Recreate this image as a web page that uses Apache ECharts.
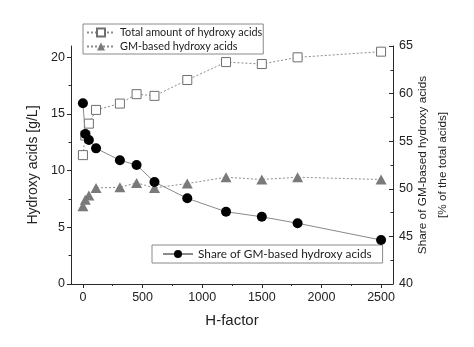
<!DOCTYPE html>
<html>
<head>
<meta charset="utf-8">
<script src="https://cdn.jsdelivr.net/npm/echarts@6/dist/echarts.min.js"></script>
<style>
  html, body { margin: 0; padding: 0; background: #fff; }
  #chart { width: 474px; height: 347px; }
</style>
</head>
<body>
<div id="chart"></div>
<script>
// H-factor of each cook
const hFactor = [0, 20, 50, 110, 310, 450, 600, 875, 1200, 1500, 1800, 2500];
// Hydroxy acid concentrations [g/L]
const totalAcids = [11.37, 13.1, 14.15, 15.36, 15.92, 16.75, 16.6, 18.0, 19.58, 19.41, 20.0, 20.5];
const gmAcids = [6.85, 7.44, 7.8, 8.48, 8.53, 8.92, 8.48, 8.86, 9.42, 9.22, 9.42, 9.22];
// Share of GM-based acids [% of total]
const gmShare = [58.98, 55.76, 55.13, 54.25, 53.0, 52.5, 50.71, 49.0, 47.59, 47.06, 46.38, 44.62];

// Axis tick positions
const xMajor = [0, 500, 1000, 1500, 2000, 2500];
const xMinor = [250, 750, 1250, 1750, 2250];
const yLeftMajor = [0, 5, 10, 15, 20];
const yLeftMinor = [2.5, 7.5, 12.5, 17.5];

const names = {
  total: 'Total amount of hydroxy acids',
  gm: 'GM-based hydroxy acids',
  share: 'Share of GM-based hydroxy acids'
};

const pairs = (xs, ys) => xs.map((x, i) => [x, ys[i]]);
const plain = v => String(v);

const axisColor = '#2a2a2a';
const labelFont = { fontFamily: 'Liberation Sans', fontSize: 12.5, color: '#222' };
const nameFont = { fontFamily: 'Liberation Sans', color: '#222' };
const plotRect = { left: 71, top: 46, width: 322, height: 238, containLabel: false };

const chart = echarts.init(document.getElementById('chart'), null, { renderer: 'canvas' });

chart.setOption({
  backgroundColor: '#fff',
  animation: false,
  // second grid shares the plot rectangle and only carries the minor ticks
  grid: [Object.assign({}, plotRect), Object.assign({}, plotRect)],
  legend: [
    {
      data: [names.total, names.gm],
      orient: 'vertical',
      left: 83, top: 24,
      itemWidth: 28, itemHeight: 10, itemGap: 3,
      padding: [3, 1, 2, 3],
      borderColor: '#8a8a8a', borderWidth: 1,
      textStyle: { fontFamily: 'Lato', fontSize: 10.85, color: '#222' }
    },
    {
      data: [names.share],
      left: 152, top: 245,
      itemWidth: 30, itemHeight: 10,
      padding: [3, 11, 3, 10],
      borderColor: '#8a8a8a', borderWidth: 1,
      textStyle: { fontFamily: 'Lato', fontSize: 11.8, color: '#222' }
    }
  ],
  xAxis: [
    {
      type: 'value', gridIndex: 0, min: -100, max: 2600, position: 'bottom',
      name: 'H-factor', nameLocation: 'middle', nameGap: 29,
      nameTextStyle: Object.assign({ fontSize: 15 }, nameFont),
      axisLine: { onZero: false, lineStyle: { color: axisColor, width: 1 } },
      axisTick: { customValues: xMajor, length: 4, lineStyle: { color: axisColor } },
      axisLabel: Object.assign({ customValues: xMajor, margin: 7, formatter: plain }, labelFont),
      splitLine: { show: false }
    },
    {
      type: 'value', gridIndex: 1, min: -100, max: 2600, position: 'bottom',
      axisLine: { show: false, onZero: false },
      axisTick: { customValues: xMinor, length: 2, lineStyle: { color: axisColor } },
      axisLabel: { show: false },
      splitLine: { show: false }
    }
  ],
  yAxis: [
    {
      type: 'value', gridIndex: 0, min: 0, max: 21, position: 'left',
      name: 'Hydroxy acids [g/L]', nameLocation: 'middle', nameGap: 31, nameRotate: 90,
      nameMoveOverlap: false,
      nameTextStyle: Object.assign({ fontSize: 14 }, nameFont),
      axisLine: { show: true, onZero: false, lineStyle: { color: axisColor, width: 1 } },
      axisTick: { customValues: yLeftMajor, length: 4, lineStyle: { color: axisColor } },
      axisLabel: Object.assign({ customValues: yLeftMajor, margin: 6 }, labelFont),
      splitLine: { show: false }
    },
    {
      type: 'value', gridIndex: 0, min: 40, max: 65, interval: 5, position: 'right',
      name: 'Share of GM-based hydroxy acids\n[% of the total acids]',
      nameLocation: 'middle', nameGap: 20, nameRotate: 90,
      nameMoveOverlap: false,
      nameTextStyle: Object.assign({ fontSize: 11.8, lineHeight: 20, align: 'center' }, nameFont),
      axisLine: { show: true, onZero: false, lineStyle: { color: axisColor, width: 1 } },
      axisTick: { inside: true, length: 4, lineStyle: { color: axisColor } },
      minorTick: { show: true, splitNumber: 2, length: 2.5, lineStyle: { color: axisColor } },
      axisLabel: Object.assign({ margin: 6 }, labelFont),
      splitLine: { show: false },
      minorSplitLine: { show: false }
    },
    {
      type: 'value', gridIndex: 1, min: 0, max: 21, position: 'left',
      axisLine: { show: false, onZero: false },
      axisTick: { customValues: yLeftMinor, length: 2.5, lineStyle: { color: axisColor } },
      axisLabel: { show: false },
      splitLine: { show: false }
    }
  ],
  series: [
    {
      name: names.total, type: 'line', xAxisIndex: 0, yAxisIndex: 0,
      data: pairs(hFactor, totalAcids),
      symbol: 'rect', symbolSize: 9,
      lineStyle: { color: '#8c8c8c', width: 1, type: [2, 2] },
      itemStyle: { color: '#fff', borderColor: '#6e6e6e', borderWidth: 1 },
      z: 2
    },
    {
      name: names.gm, type: 'line', xAxisIndex: 0, yAxisIndex: 0,
      data: pairs(hFactor, gmAcids),
      symbol: 'triangle', symbolSize: [11, 10],
      lineStyle: { color: '#8c8c8c', width: 1, type: [2, 2] },
      itemStyle: { color: '#7a7a7a' },
      z: 3
    },
    {
      name: names.share, type: 'line', xAxisIndex: 0, yAxisIndex: 1,
      data: pairs(hFactor, gmShare),
      symbol: 'circle', symbolSize: 10,
      lineStyle: { color: '#8a8a8a', width: 1 },
      itemStyle: { color: '#000' },
      z: 4
    }
  ]
});
</script>
</body>
</html>
